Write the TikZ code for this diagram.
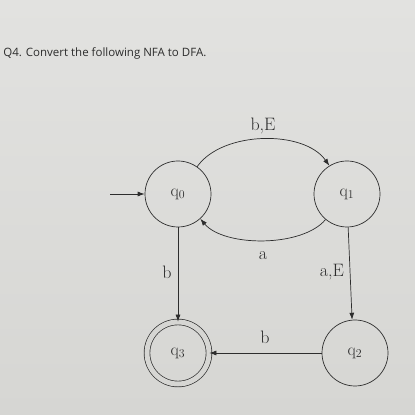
\documentclass[tikz,border=0pt]{standalone}
\usepackage{fontspec}
\newfontfamily\titlefont{Open Sans}
\usetikzlibrary{arrows.meta}

\definecolor{paper}{RGB}{214,214,211}
\definecolor{paperlight}{RGB}{226,226,224}
\definecolor{ink}{RGB}{45,45,45}

\begin{document}
\begin{tikzpicture}[
      x=1pt, y=1pt,
      line width=.7pt,
      draw=ink, text=ink,
      state/.style={draw, circle, minimum size=66pt, inner sep=0pt,
        font=\fontsize{17}{19}\selectfont},
      accept/.style={state, minimum size=62pt, double=paper, double distance=5pt},
      edge/.style={draw=ink, -{Latex[length=7pt,width=5pt]}},
      lbl/.style={font=\fontsize{18}{20}\selectfont}]

    % paper background
    \shade[top color=paperlight, bottom color=paper] (0,0) rectangle (415,415);
    \useasboundingbox (0,0) rectangle (415,415);

    % question
    \node[anchor=west, inner sep=0pt, font=\titlefont\fontsize{11.5}{13}\selectfont]
      (title) at (3,362) {Q4. Convert the following NFA to DFA.};

    % states
    \node[state] (q0) at (178,221) {q\textsubscript{0}};
    \node[state] (q1) at (347,221) {q\textsubscript{1}};
    \node[state] (q2) at (355,62) {q\textsubscript{2}};
    \node[accept] (q3) at (178,62) {q\textsubscript{3}};

    % start arrow
    \coordinate (start) at (110,221);
    \draw[edge] (start) -- (q0);

    % transitions
    \draw[edge] (q0.55) to[out=55, in=125, looseness=.85] (q1.122);
    \draw[edge] (q1.-130) to[out=-130, in=-50, looseness=.75] (q0.-48);
    \draw[edge] (q0) -- (q3);
    \draw[edge] (q1.-88) -- (q2.95);
    \draw[edge] (q2) -- (q3);

    % labels
    \node[lbl] (lbe) at (263,289) {b,E};
    \node[lbl] (la) at (263,159) {a};
    \node[lbl] (lb1) at (167,143) {b};
    \node[lbl] (lae) at (332,143) {a,E};
    \node[lbl] (lb2) at (265,78) {b};

  \end{tikzpicture}
\end{document}
